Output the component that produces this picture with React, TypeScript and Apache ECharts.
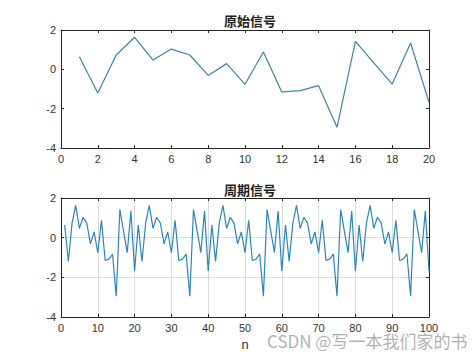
import React, { useEffect, useRef } from "react";
import * as echarts from "echarts";

const baseN: number[] = [1, 2, 3, 4, 5, 6, 7, 8, 9, 10, 11, 12, 13, 14, 15, 16, 17, 18, 19, 20];
const baseValues: number[] = [0.64, -1.2, 0.73, 1.63, 0.47, 1.03, 0.73, -0.31, 0.29, -0.76, 0.88, -1.15, -1.08, -0.83, -2.95, 1.42, 0.33, -0.75, 1.34, -1.68];
const periods = 5;
const yTicks: number[] = [-4, -2, 0, 2];
const title1 = "原始信号";
const title2 = "周期信号";
const xName = "n";
const watermark = "CSDN @写一本我们家的书";

export default function App() {
  const ref = useRef<HTMLDivElement>(null);
  useEffect(() => {
    if (!ref.current) return;
    const chart = echarts.init(ref.current, undefined, { renderer: "svg" });
    const top = baseN.map((n, i) => [n, baseValues[i]]);
    const periodic: number[][] = [];
    for (let p = 0; p < periods; p++) {
      baseN.forEach((n, i) => periodic.push([n + p * baseN.length, baseValues[i]]));
    }
    const labelStyle = { color: "#333", fontSize: 11, fontFamily: "Liberation Sans, Arial, sans-serif" };
    const axisLine = { show: true, onZero: false, lineStyle: { color: "#262626", width: 1 } };
    const tick = { show: true, inside: true, length: 3, lineStyle: { color: "#262626" } };
    const mkX = (gi: number, max: number, interval: number, grid: boolean, pos: string, labels: boolean, name?: string) => ({
      type: "value", gridIndex: gi, min: 0, max, interval, position: pos,
      axisLine, axisTick: tick,
      axisLabel: labels ? { ...labelStyle, margin: 5 } : { show: false },
      splitLine: { show: grid, lineStyle: { color: "#dcdcdc", width: 1 } },
      name: name, nameLocation: "middle", nameGap: 21,
      nameTextStyle: { color: "#333", fontSize: 13, fontFamily: "Liberation Sans, Arial, sans-serif" },
    });
    const mkY = (gi: number, grid: boolean, pos: string, labels: boolean) => ({
      type: "value", gridIndex: gi, min: yTicks[0], max: yTicks[yTicks.length - 1], interval: 2, position: pos,
      axisLine, axisTick: tick,
      axisLabel: labels ? { ...labelStyle, margin: 5 } : { show: false },
      splitLine: { show: grid, lineStyle: { color: "#dcdcdc", width: 1 } },
    });
    chart.setOption({
      animation: false,
      backgroundColor: "#fff",
      title: [
        { text: title1, left: 245, top: 9, textAlign: "center", textStyle: { fontSize: 13, fontWeight: "bold", color: "#222", fontFamily: "Noto Sans CJK SC" } },
        { text: title2, left: 245, top: 178, textAlign: "center", textStyle: { fontSize: 13, fontWeight: "bold", color: "#222", fontFamily: "Noto Sans CJK SC" } },
      ],
      grid: [
        { left: 61, top: 30, width: 368, height: 118 },
        { left: 61, top: 198, width: 368, height: 119 },
      ],
      xAxis: [
        mkX(0, 20, 2, false, "bottom", true),
        mkX(0, 20, 2, false, "top", false),
        mkX(1, 100, 10, true, "bottom", true, xName),
        mkX(1, 100, 10, false, "top", false),
      ],
      yAxis: [
        mkY(0, false, "left", true),
        mkY(0, false, "right", false),
        mkY(1, true, "left", true),
        mkY(1, false, "right", false),
      ],
      graphic: [
        { type: "text", left: 267, top: 332, style: { text: watermark, fill: "rgba(150,150,150,0.75)", fontSize: 17, fontFamily: "Noto Sans CJK SC" }, z: 100 },
      ],
      series: [
        { type: "line", xAxisIndex: 0, yAxisIndex: 0, data: top, showSymbol: false, lineStyle: { color: "#3a84ac", width: 1.2 } },
        { type: "line", xAxisIndex: 2, yAxisIndex: 2, data: periodic, showSymbol: false, lineStyle: { color: "#2a86c0", width: 1.2 } },
      ],
    });
    return () => chart.dispose();
  }, []);
  return <div ref={ref} style={{ width: 474, height: 355, position: "absolute", left: 0, top: 0 }} />;
}
